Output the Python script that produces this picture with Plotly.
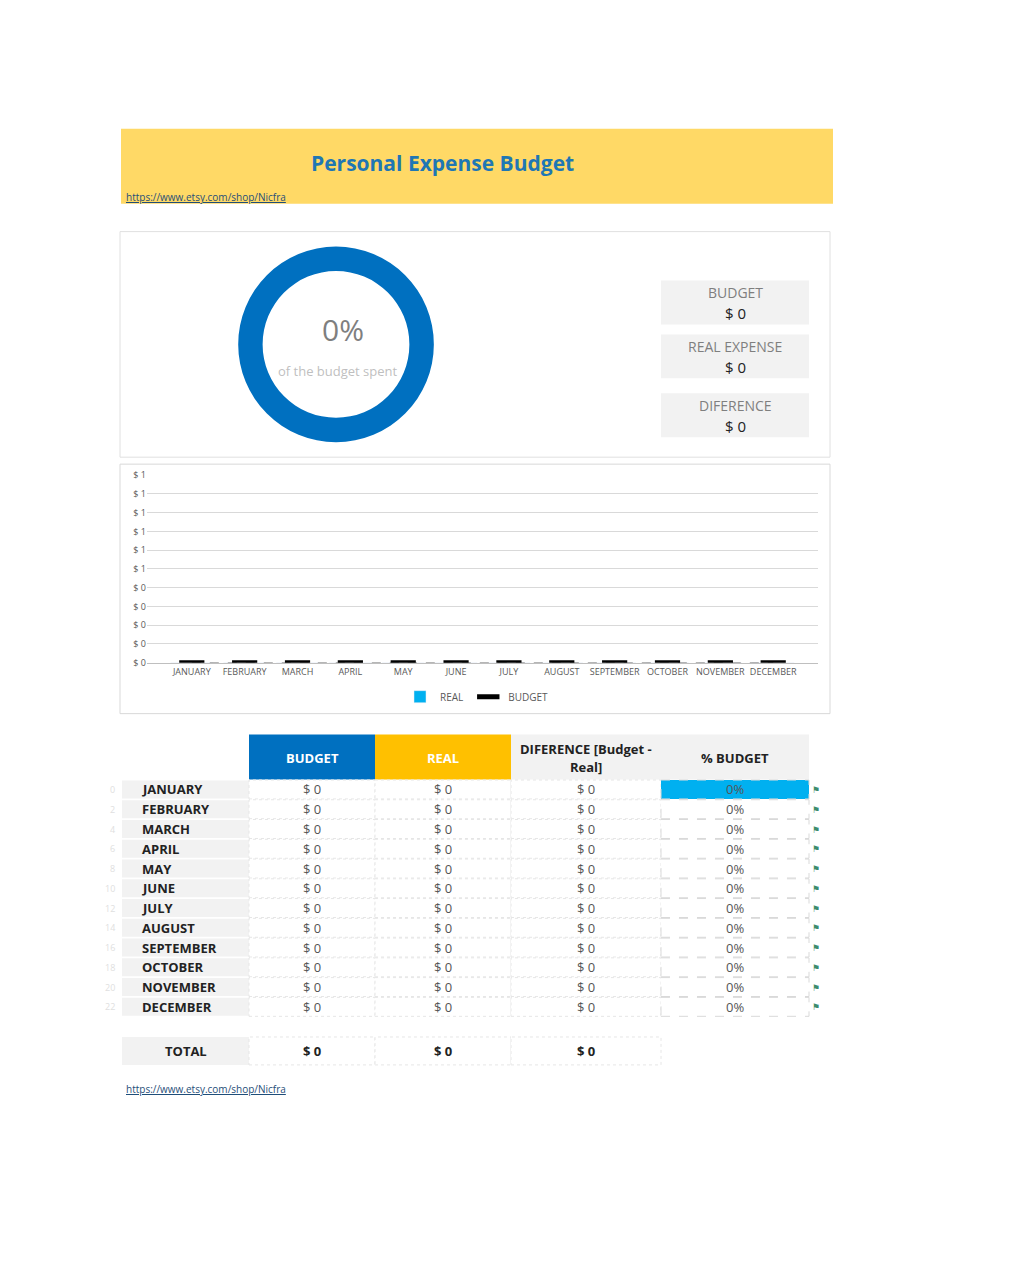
import plotly.graph_objects as go

W, H = 1011, 1259
OFF = 8

months = ["JANUARY", "FEBRUARY", "MARCH", "APRIL", "MAY", "JUNE", "JULY",
          "AUGUST", "SEPTEMBER", "OCTOBER", "NOVEMBER", "DECEMBER"]
real_values = [0] * 12
budget_values = [0] * 12
row_numbers = ["0", "2", "4", "6", "8", "10", "12", "14", "16", "18", "20", "22"]
y_ticks = [0, 0.1, 0.2, 0.3, 0.4, 0.5, 0.6, 0.7, 0.8, 0.9, 1.0]
y_tick_labels = ["$ 0"] * 5 + ["$ 1"] * 6
donut_values = [0, 1]
summary = [("BUDGET", "$ 0"), ("REAL EXPENSE", "$ 0"), ("DIFERENCE", "$ 0")]


def px_x(x):
    return (x - OFF) / W


def px_y(y):
    y = (y - 6) / 0.9917
    return 1 - (y - OFF) / H


fig = go.Figure()
shapes = []
ann = []


def rect(x0, y0, x1, y1, fill, line=None, width=1, dash=None):
    shapes.append(dict(type="rect", xref="paper", yref="paper",
                       x0=px_x(x0), x1=px_x(x1), y0=px_y(y1), y1=px_y(y0),
                       fillcolor=fill, layer="below",
                       line=dict(color=line or "rgba(0,0,0,0)", width=width, dash=dash)))


def text(x, y, s, size=13, color="#333", bold=False, xanchor="center", font="Open Sans"):
    ann.append(dict(xref="paper", yref="paper", x=px_x(x), y=px_y(y), text=f"<b>{s}</b>" if bold else s,
                    showarrow=False, xanchor=xanchor, yanchor="middle",
                    font=dict(size=size, color=color, family=font)))


# header
rect(121, 128, 833, 203, "#FFD966")
text(442, 162, "Personal Expense Budget", 21, "#1F77B4", True)
text(124, 196, "<u>https://www.etsy.com/shop/Nicfra</u>", 10, "#1F4E79", xanchor="left")

# KPI panel
rect(120, 231, 830, 457, "white", "#E0E0E0")
for i, (lab, val) in enumerate(summary):
    top = [280, 334, 393][i]
    rect(661, top, 809, top + 44, "#F2F2F2")
    text(735, top + 12, lab, 14, "#7F7F7F")
    text(735, top + 33, val, 15, "#222")

fig.add_trace(go.Pie(values=donut_values, hole=0.75, sort=False, direction="clockwise",
                     marker=dict(colors=["#BFBFBF", "#0070C0"], line=dict(width=0)),
                     textinfo="none", showlegend=False, hoverinfo="skip",
                     domain=dict(x=[px_x(238), px_x(434)], y=[px_y(442), px_y(246)])))
text(343, 329, "0%", 30, "#7F7F7F")
text(338, 371, "of the budget spent", 13, "#BFBFBF")

# bar chart panel
rect(120, 464, 830, 714, "white", "#D9D9D9")
fig.add_trace(go.Bar(x=months, y=real_values, name="REAL", marker_color="#00B0F0",
                     xaxis="x", yaxis="y"))
fig.add_trace(go.Scatter(x=months, y=budget_values, mode="lines", showlegend=False,
                         line=dict(color="#808080", width=1, dash="dash"), xaxis="x", yaxis="y"))
fig.add_trace(go.Scatter(x=months, y=budget_values, name="BUDGET", mode="markers",
                         marker=dict(symbol="line-ew", size=18, line=dict(width=5, color="black")),
                         xaxis="x", yaxis="y"))

# table header
rect(249, 735, 375, 780, "#0070C0")
rect(375, 735, 511, 780, "#FFC000")
rect(511, 735, 809, 780, "#F2F2F2")
text(312, 758, "BUDGET", 13, "white", True)
text(443, 758, "REAL", 13, "white", True)
text(586, 749, "DIFERENCE [Budget -", 13, "#222", True)
text(586, 767, "Real]", 13, "#222", True)
text(735, 758, "% BUDGET", 13, "#222", True)

for i, m in enumerate(months):
    yc = 790 + i * 19.8
    rect(122, yc - 9, 249, yc + 9, "#F2F2F2")
    for x0, x1 in [(249, 375), (375, 511), (511, 661)]:
        rect(x0, yc - 9.5, x1, yc + 9.5, "white", "#E6E6E6", 1, "dot")
    rect(661, yc - 9.5, 809, yc + 9.5, "#00B0F0" if i == 0 else "white", "#D9D9D9", 1, "dash")
    text(117, yc, row_numbers[i], 9, "#E0E0E0", xanchor="right")
    text(140, yc, m, 13, "#222", True, "left")
    text(312, yc, f"$ {budget_values[i]}", 13, "#555")
    text(443, yc, f"$ {real_values[i]}", 13, "#555")
    text(586, yc, f"$ {budget_values[i] - real_values[i]}", 13, "#555")
    text(735, yc, "0%", 13, "#555")
    text(816, yc, "⚑", 9, "#3C8C6E")

rect(122, 1038, 249, 1066, "#F2F2F2")
text(186, 1052, "TOTAL", 13, "#222", True)
for x0, x1 in [(249, 375), (375, 511), (511, 661)]:
    rect(x0, 1038, x1, 1066, "white", "#E6E6E6", 1, "dot")
    text((x0 + x1) / 2, 1052, "$ 0", 13, "#222", True)
text(124, 1090, "<u>https://www.etsy.com/shop/Nicfra</u>", 10, "#1F4E79", xanchor="left")

fig.update_layout(
    width=W, height=H, margin=dict(l=0, r=0, t=0, b=0),
    paper_bgcolor="white", plot_bgcolor="white",
    shapes=shapes, annotations=ann,
    font=dict(family="Open Sans"),
    barmode="overlay",
    xaxis=dict(domain=[px_x(147), px_x(818)], anchor="y", showgrid=False,
               tickfont=dict(size=9, color="#595959"), showline=True, linecolor="#BFBFBF",
               ticks=""),
    yaxis=dict(domain=[px_y(663), px_y(475)], range=[0, 1.0], tickvals=y_ticks,
               ticktext=y_tick_labels, gridcolor="#D9D9D9", zeroline=False,
               tickfont=dict(size=9, color="#595959")),
    legend=dict(orientation="h", x=px_x(477), xanchor="center", y=px_y(697), yanchor="middle",
                font=dict(size=10, color="#595959"), bgcolor="rgba(0,0,0,0)"),
)

fig.write_html("out.html")
